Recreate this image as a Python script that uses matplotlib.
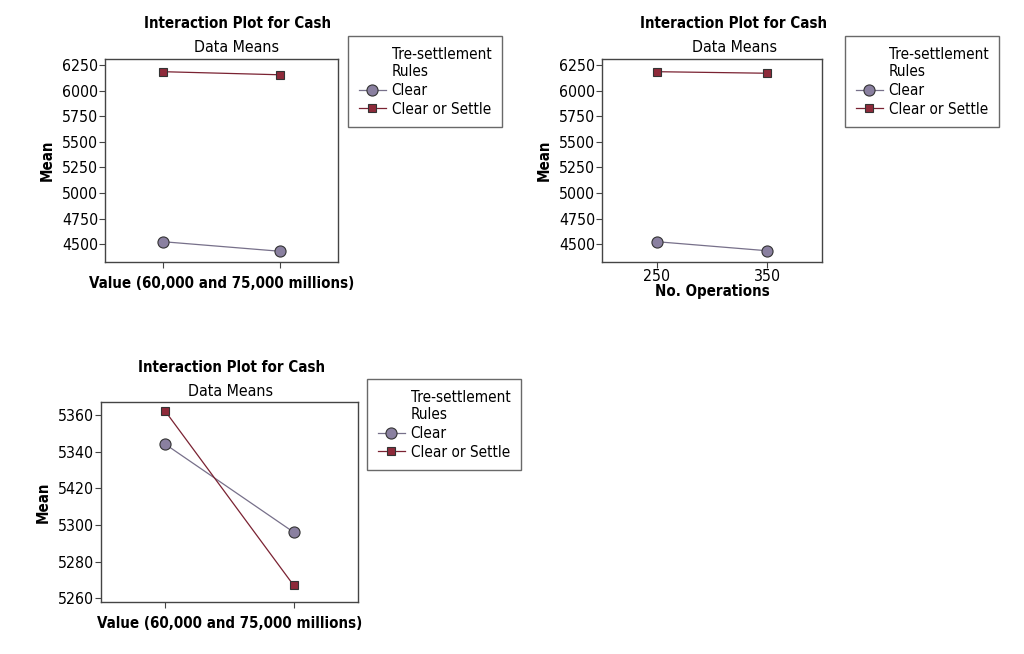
import matplotlib
matplotlib.use("Agg")
import matplotlib.pyplot as plt
from matplotlib.lines import Line2D
from matplotlib.ticker import FixedLocator, FixedFormatter

plt.rcParams['font.family'] = ['DejaVu Sans']
plt.rcParams['font.stretch'] = 'condensed'

groups = ["Clear", "Clear or Settle"]
legend_title = "Tre-settlement\nRules"

# panel 1: value
value_clear = [4525, 4432]
value_settle = [6185, 6155]

# panel 2: number of operations
ops_labels = ["250", "350"]
ops_clear = [4525, 4437]
ops_settle = [6185, 6170]

# panel 3: value (second run)
value2_clear = [5344, 5296]
value2_settle = [5362, 5267]
value2_ticks = [5360, 5340, 5320, 5300, 5280, 5260]
value2_ticklabels = ["5360", "5340", "5420", "5300", "5280", "5260"]

top_ticks = [6250, 6000, 5750, 5500, 5250, 5000, 4750, 4500]

W, H = 1024, 654
fig = plt.figure(figsize=(W / 100, H / 100), dpi=100)

c_clear = "#8a80a0"
c_clear_line = "#77708a"
c_settle = "#8e2a3a"
c_settle_line = "#7a2232"
edge = "#333333"
fs = 11.4     # regular text
fsl = 11.0    # legend text
fsb = 10.8    # bold text
ms_c, ms_s = 8, 6.2


def box(x0, y0, x1, y1):
    return [x0 / W, 1 - y1 / H, (x1 - x0) / W, (y1 - y0) / H]


def panel(rect, clear, settle, ylim, legend_xy, title_x, title_y):
    ax = fig.add_axes(rect)
    xs = list(range(len(clear)))
    ax.plot(xs, clear, color=c_clear_line, lw=0.9, marker="o", ms=ms_c,
            mfc=c_clear, mec=edge, mew=0.8, zorder=3)
    ax.plot(xs, settle, color=c_settle_line, lw=0.9, marker="s", ms=ms_s,
            mfc=c_settle, mec=edge, mew=0.8, zorder=3)
    ax.set_xlim(-0.5, 1.5)
    ax.set_ylim(*ylim)
    ax.set_xticks(xs)
    for s in ax.spines.values():
        s.set_color("#444444")
        s.set_linewidth(1.0)
    ax.tick_params(axis="both", direction="out", length=4, width=0.8,
                   color="#444444", labelsize=fs, pad=1)
    ax.set_ylabel("Mean", fontsize=fsb, fontweight="bold", labelpad=5)

    fig.text(title_x / W, 1 - title_y / H, "Interaction Plot for Cash",
             ha="center", va="center", fontsize=fsb, fontweight="bold")
    fig.text(title_x / W, 1 - (title_y + 25) / H, "Data Means",
             ha="center", va="center", fontsize=fs)

    # blank first entry so the title lines up with the labels
    handles = [Line2D([], [], linestyle="none"),
               Line2D([], [], color=c_clear_line, lw=0.9, marker="o", ms=ms_c,
                      mfc=c_clear, mec=edge, mew=0.8),
               Line2D([], [], color=c_settle_line, lw=0.9, marker="s", ms=ms_s,
                      mfc=c_settle, mec=edge, mew=0.8)]
    leg = ax.legend(handles, [legend_title] + groups, loc="upper left",
                    bbox_to_anchor=(legend_xy[0] / W, 1 - legend_xy[1] / H),
                    bbox_transform=fig.transFigure, frameon=True,
                    fancybox=False, fontsize=fsl, handlelength=1.8,
                    handletextpad=0.35, labelspacing=0.25, borderpad=0.7,
                    borderaxespad=0)
    leg.get_frame().set_edgecolor("#444444")
    leg.get_frame().set_linewidth(1.0)
    return ax


ax1 = panel(box(105, 59, 338, 262), value_clear, value_settle,
            (4327, 6309), (348, 36), 237, 23)
ax1.set_yticks(top_ticks)
ax1.set_xticklabels([])
ax1.set_xlabel("Value (60,000 and 75,000 millions)", fontsize=fsb,
               fontweight="bold", labelpad=5)

ax2 = panel(box(602, 59, 822, 262), ops_clear, ops_settle,
            (4327, 6309), (845, 36), 734, 23)
ax2.set_yticks(top_ticks)
ax2.set_xticklabels(ops_labels)
ax2.set_xlabel("No. Operations", fontsize=fsb, fontweight="bold", labelpad=0)

ax3 = panel(box(101, 402, 358, 602), value2_clear, value2_settle,
            (5258, 5367), (367, 379), 231, 367)
ax3.yaxis.set_major_locator(FixedLocator(value2_ticks))
ax3.yaxis.set_major_formatter(FixedFormatter(value2_ticklabels))
ax3.set_xticklabels([])
ax3.set_xlabel("Value (60,000 and 75,000 millions)", fontsize=fsb,
               fontweight="bold", labelpad=5)

fig.savefig("out.png", dpi=100)
